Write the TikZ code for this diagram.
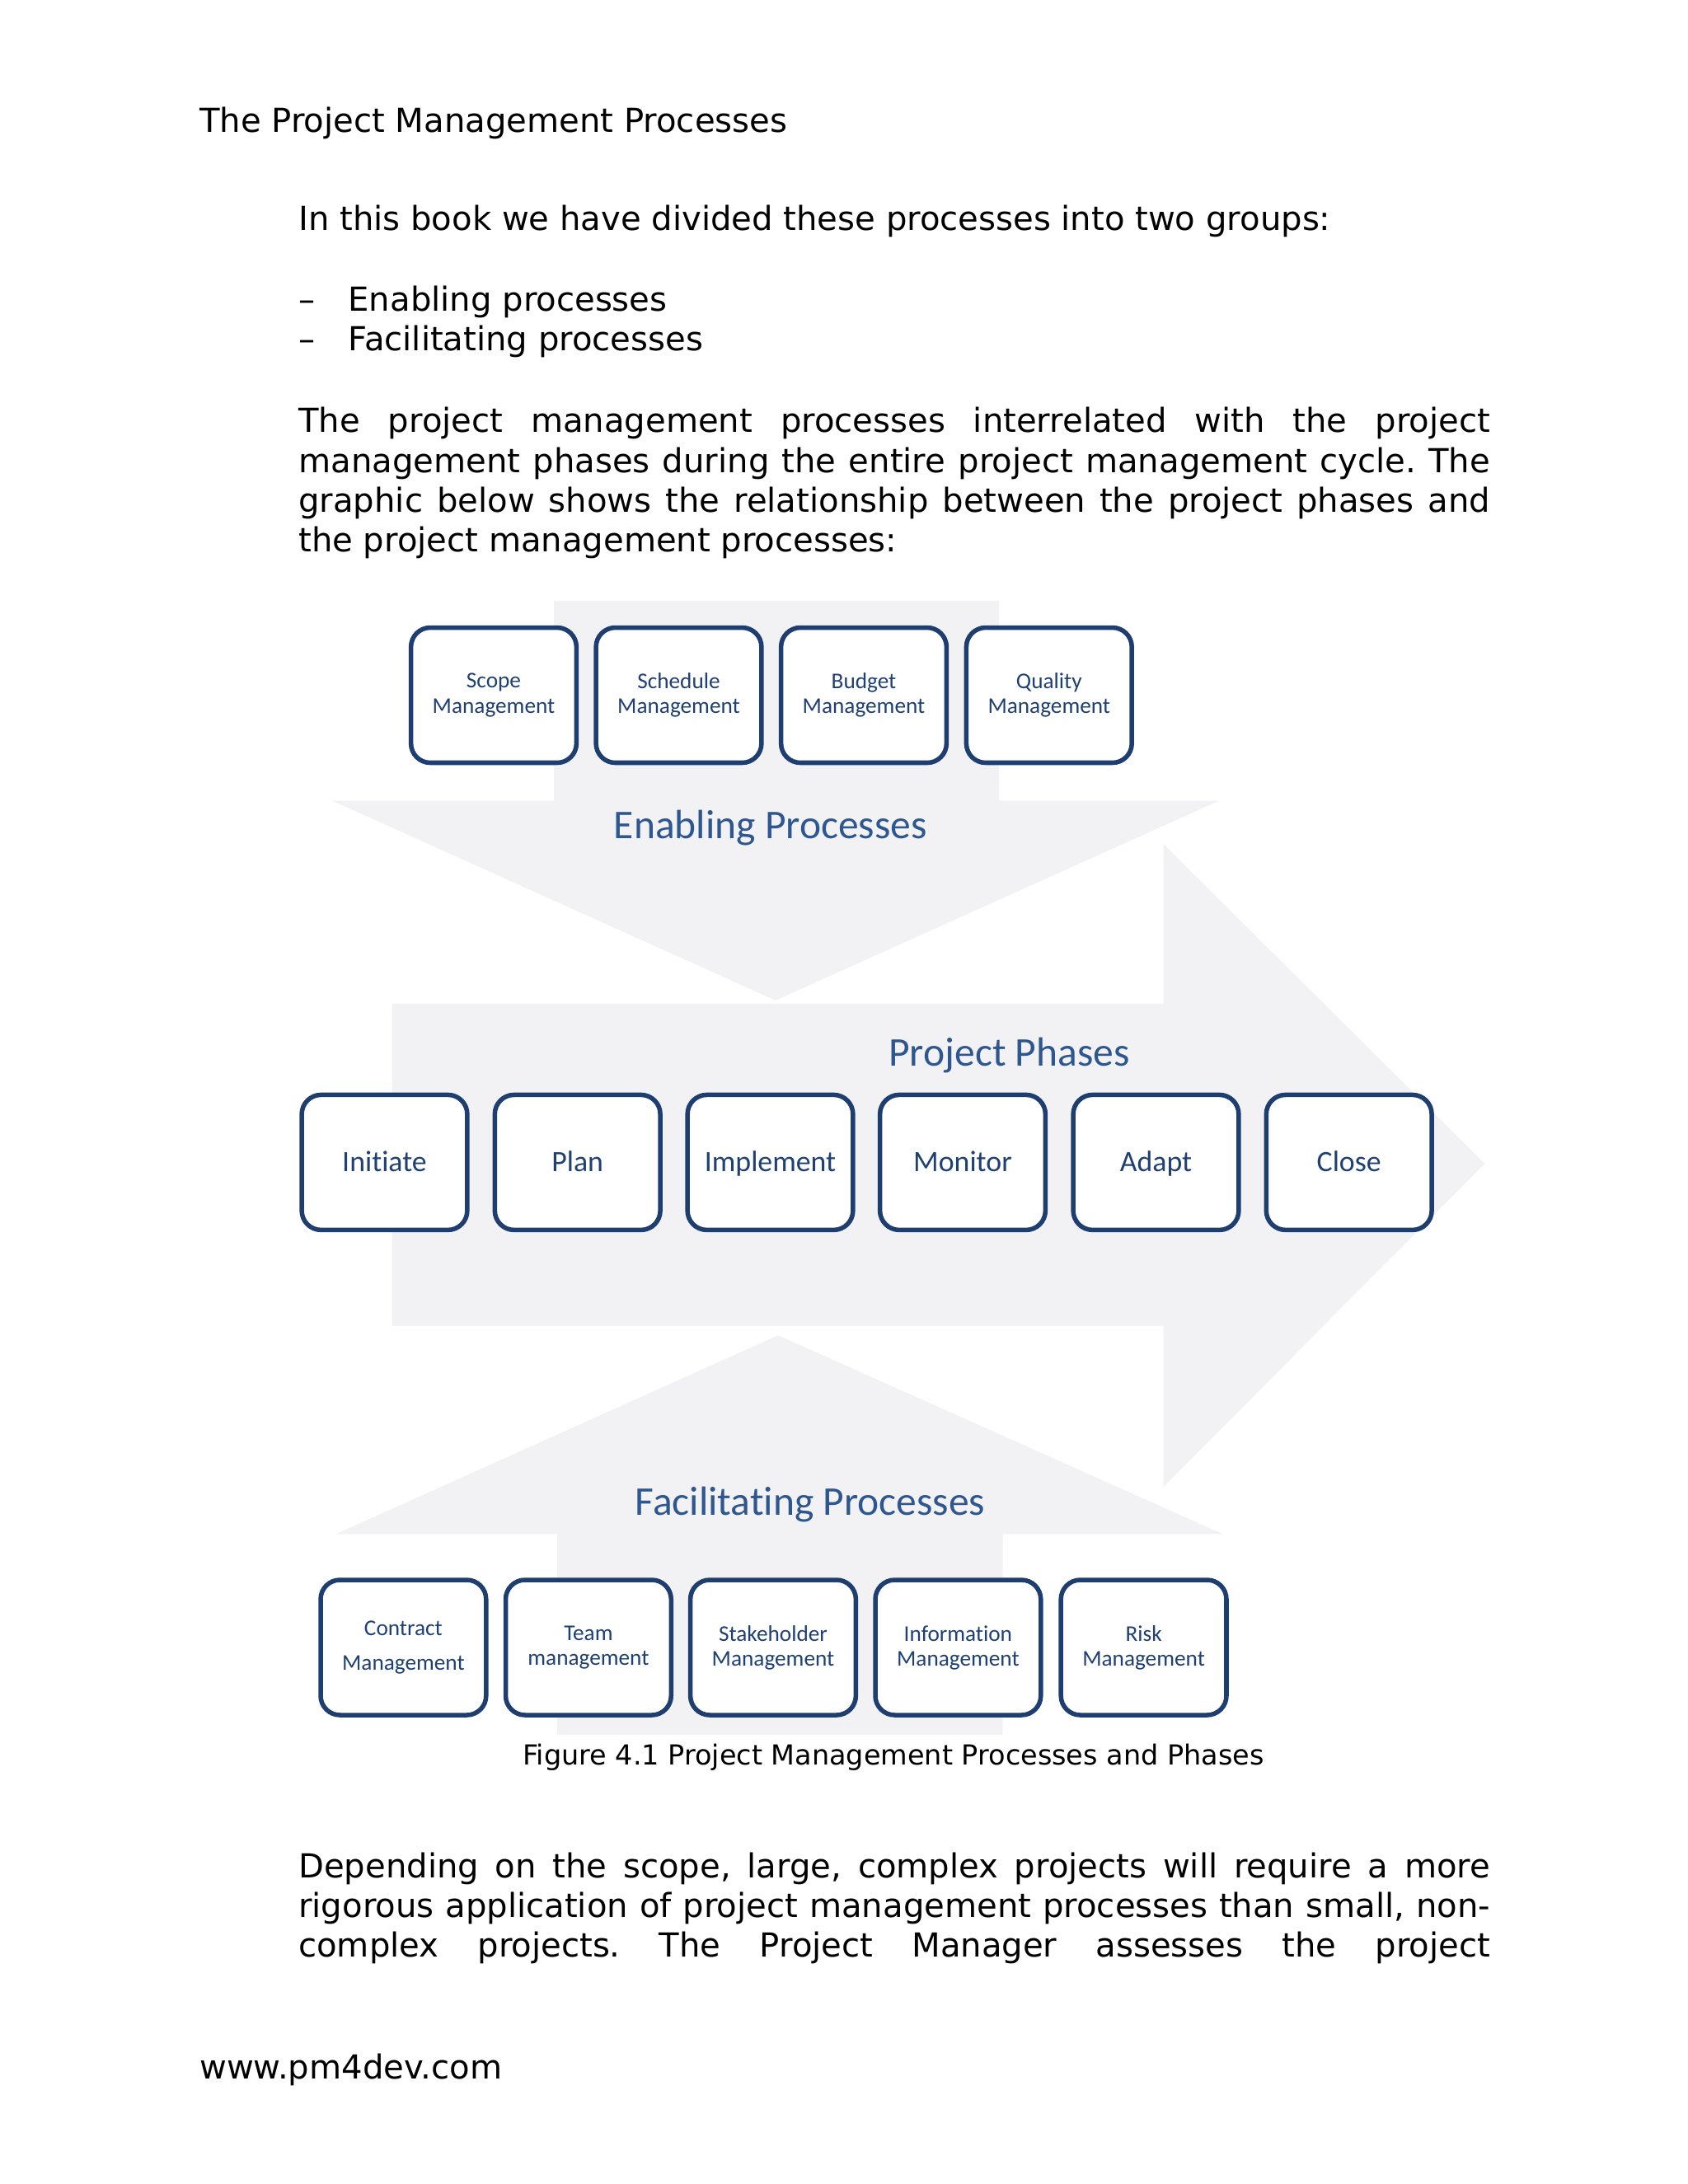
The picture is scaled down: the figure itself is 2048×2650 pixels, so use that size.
\documentclass[tikz,border=0pt]{standalone}
\usepackage{fontspec}
\setmainfont{DejaVu Sans}
\newfontfamily\calibri[Ligatures=NoCommon]{Carlito}
\definecolor{arrowgrey}{RGB}{242,242,244}
\definecolor{boxline}{RGB}{30,62,112}
\definecolor{boxtext}{RGB}{31,64,115}
\definecolor{labelblue}{RGB}{47,87,143}
\tikzset{
  bodytext/.style={anchor=base west, inner sep=0pt, font=\fontsize{12}{14.5}\selectfont\frenchspacing},
  procbox/.style={draw=boxline, line width=1.65pt, rounded corners=7pt, fill=white,
    minimum width=60pt, minimum height=49pt, inner sep=0pt, align=center,
    text=boxtext, font=\calibri\fontsize{8.15}{9}\selectfont},
  phasebox/.style={procbox, text height=8pt, text depth=1.1pt,
    font=\calibri\fontsize{10.7}{12}\selectfont},
  grouplabel/.style={anchor=base, inner sep=0pt, text=labelblue,
    font=\calibri\fontsize{14.8}{17}\selectfont},
  bigarrow/.style={fill=arrowgrey, draw=none}
}
\newcommand{\jline}[1]{\makebox[432pt][s]{#1}}
\begin{document}
\begin{tikzpicture}[x=0.298828pt,y=-0.298828pt]
\useasboundingbox (0,0) rectangle (2048,2650);
\fill[white] (0,0) rectangle (2048,2650);

% ---------- page text ----------
\node[bodytext] (hdr) at (241.6,160.2) {The Project Management Processes};
\node[bodytext] (intro) at (361.6,279.8) {In this book we have divided these processes into two groups:};
\node[bodytext] (d1) at (361.6,377.9) {–};
\node[bodytext] (it1) at (421.9,377.9) {Enabling processes};
\node[bodytext] (d2) at (361.6,425.9) {–};
\node[bodytext] (it2) at (421.9,425.9) {Facilitating processes};
\node[bodytext] (p1a) at (361.6,524.7) {\jline{The project management processes interrelated with the project}};
\node[bodytext] (p1b) at (361.6,573.0) {\jline{management phases during the entire project management cycle. The}};
\node[bodytext] (p1c) at (361.6,621.3) {\jline{graphic below shows the relationship between the project phases and}};
\node[bodytext] (p1d) at (361.6,669.6) {the project management processes:};

% ---------- background arrows ----------
\path[bigarrow] (672,728.8) -- (1212,728.8) -- (1212,971.6) -- (1478.8,971.6)
  -- (941,1213.8) -- (403.3,971.6) -- (672,971.6) -- cycle;
\path[bigarrow] (476.2,1217.8) -- (1411.7,1217.8) -- (1411.7,1024.4) -- (1801.4,1412)
  -- (1411.7,1803.9) -- (1411.7,1608.7) -- (476.2,1608.7) -- cycle;
\path[bigarrow] (944,1620.2) -- (1483.4,1861.3) -- (1216.5,1861.3) -- (1216.5,2105.2)
  -- (676,2105.2) -- (676,1861.3) -- (407.9,1861.3) -- cycle;

% ---------- group labels ----------
\node[grouplabel] (enab) at (934.8,1017) {Enabling Processes};
\node[grouplabel] (phases) at (1224.4,1293) {Project Phases};
\node[grouplabel] (facil) at (983,1838.3) {Facilitating Processes};

% ---------- enabling process boxes ----------
\node[procbox] (scope) at (599,843.5) {Scope\\Management};
\node[procbox] (sched) at (823.5,843.5) {Schedule\\Management};
\node[procbox] (budget) at (1048,843.5) {Budget\\Management};
\node[procbox] (quality) at (1272.8,843.5) {Quality\\Management};

% ---------- phase boxes ----------
\node[phasebox] (initiate) at (466.5,1410.4) {Initiate};
\node[phasebox] (plan) at (700.7,1410.4) {Plan};
\node[phasebox] (implement) at (934.5,1410.4) {Implement};
\node[phasebox] (monitor) at (1168,1410.4) {Monitor};
\node[phasebox] (adapt) at (1402.5,1410.4) {Adapt};
\node[phasebox] (close) at (1636.7,1410.4) {Close};

% ---------- facilitating process boxes ----------
\node[procbox] (contract) at (489.4,1999) {Contract\\[3.3pt]Management};
\node[procbox] (team) at (713.9,1999) {Team\\management};
\node[procbox] (stake) at (938,1999) {Stakeholder\\Management};
\node[procbox] (info) at (1162.4,1999) {Information\\Management};
\node[procbox] (risk) at (1387.6,1999) {Risk\\Management};

% ---------- caption and following text ----------
\node[anchor=base, inner sep=0pt, font=\fontsize{10}{12}\selectfont] (cap) at (1083.8,2141.4)
  {Figure 4.1 Project Management Processes and Phases};
\node[bodytext] (p2a) at (361.6,2278) {\jline{Depending on the scope, large, complex projects will require a more}};
\node[bodytext] (p2b) at (361.6,2326.3) {\jline{rigorous application of project management processes than small, non-}};
\node[bodytext] (p2c) at (361.6,2374.5) {\jline{complex projects. The Project Manager assesses the project}};
\node[bodytext] (foot) at (241.6,2522) {www.pm4dev.com};
\end{tikzpicture}
\end{document}
